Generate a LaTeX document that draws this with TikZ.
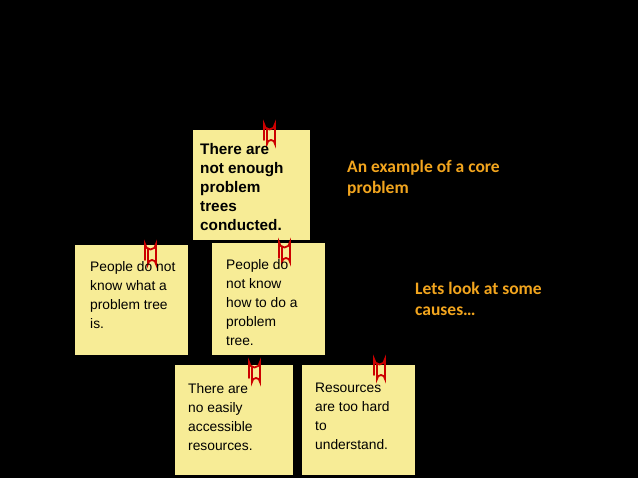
\documentclass[tikz,border=0pt]{standalone}
\usepackage{fontspec}
\setmainfont{Liberation Sans}
\newfontfamily\calib{Carlito}
\definecolor{notey}{HTML}{F7EC96}
\definecolor{orng}{HTML}{F2A51E}
\begin{document}
\begin{tikzpicture}[x=1pt,y=-1pt,
  ntext/.style={anchor=north west, align=left, font=\fontsize{13.8}{19}\selectfont, inner sep=0pt},
  otext/.style={anchor=north west, align=left, text=orng, font=\calib\bfseries\fontsize{17.5}{21}\selectfont, inner sep=0pt},
  clip/.style={draw=red!80!black, line width=1.8pt, line cap=round}]
\fill[black] (0,0) rectangle (638,478);
\useasboundingbox (0,0) rectangle (638,478);
\newcommand\pclip[2]{\draw[clip] (#1+3,#2+8) -- (#1+3,#2+24) arc[start angle=180,end angle=360,radius=4] -- (#1+11,#2+4) arc[start angle=0,end angle=180,radius=5.5] -- (#1+0,#2+20);}
\fill[notey] (193,130) rectangle (310,240);
\fill[notey] (75,245) rectangle (188,355);
\fill[notey] (212,243) rectangle (325,355);
\fill[notey] (175,365) rectangle (293,475);
\fill[notey] (302,365) rectangle (415,475);
\pclip{264}{120}
\pclip{145}{240}
\pclip{279}{238}
\pclip{249}{358}
\pclip{374}{355}
\node[ntext, font=\bfseries\fontsize{15.3}{19}\selectfont] (t1) at (200,143) {There are\\not enough\\problem\\trees\\conducted.};
\node[ntext] (t2) at (90,261) {People do not\\know what a\\problem tree\\is.};
\node[ntext] (t3) at (226,259) {People do\\not know\\how to do a\\problem\\tree.};
\node[ntext] (t4) at (188,383) {There are\\no easily\\accessible\\resources.};
\node[ntext] (t5) at (315,383) {Resources\\are too hard\\to\\understand.};
\node[otext] (o1) at (347,160) {An example of a core\\problem};
\node[otext] (o2) at (415,282) {Lets look at some\\causes…};
\end{tikzpicture}
\end{document}
